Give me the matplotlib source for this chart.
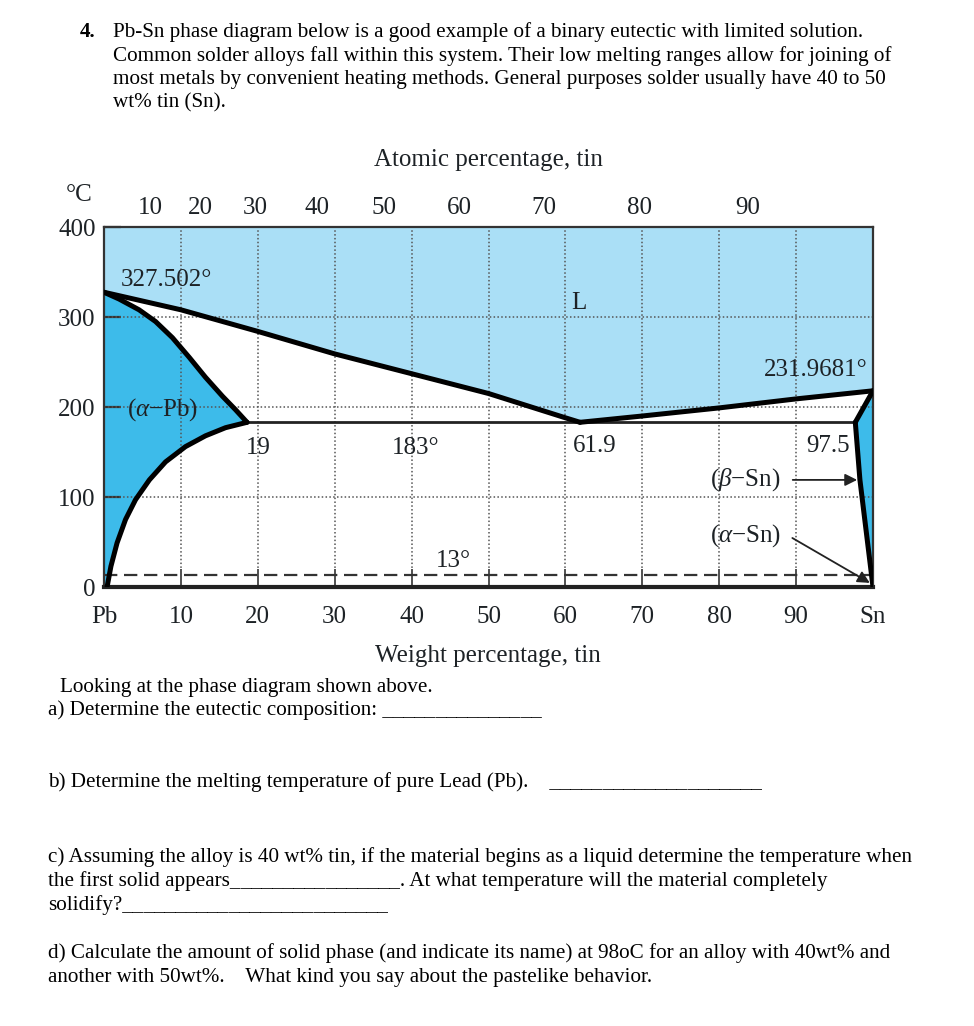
import numpy as np
import matplotlib
matplotlib.use('Agg')
import matplotlib.pyplot as plt

plt.rcParams['font.family'] = ['Liberation Serif', 'DejaVu Serif']
plt.rcParams['mathtext.fontset'] = 'custom'
plt.rcParams['mathtext.rm'] = 'Liberation Serif'
plt.rcParams['mathtext.it'] = 'Liberation Serif:italic'

# liquidus, Pb side and Sn side (wt% Sn, degC)
liq_left_wt = [0, 10, 20, 30, 40, 50, 60, 61.9]
liq_left_T = [327.5, 308, 284, 259, 237, 215, 188, 183]
liq_right_wt = [61.9, 70, 80, 90, 100]
liq_right_T = [183, 190, 199, 209, 218]

# alpha-Pb solidus and solvus
sol_pb_wt = [0, 1.95, 4.56, 6.7, 8.9, 11.1, 13.2, 15.4, 17.1, 18.6]
sol_pb_T = [327.5, 320, 308, 295, 277, 255, 233, 212, 197, 183]
solv_pb_wt = [18.6, 15.8, 13.2, 10.6, 8.0, 5.9, 4.1, 2.8, 1.7, 0.9, 0.4]
solv_pb_T = [183, 177, 168, 156, 139, 119, 97, 75, 49, 23, 0]

# beta-Sn solidus and solvus
sol_sn_wt = [97.7, 100]
sol_sn_T = [183, 218]
solv_sn_wt = [97.7, 98.3, 100]
solv_sn_T = [183, 119, 0]

eutectic_wt = [18.6, 97.7]
eutectic_T = 183
transition_T = 13

wt_ticks = [0, 10, 20, 30, 40, 50, 60, 70, 80, 90, 100]
wt_labels = ['Pb', '10', '20', '30', '40', '50', '60', '70', '80', '90', 'Sn']
at_ticks = [10, 20, 30, 40, 50, 60, 70, 80, 90]
T_ticks = [0, 100, 200, 300, 400]

M_SN = 118.71
M_PB = 207.2

LIGHT = '#aadff6'
DARK = '#3dbbea'
INK = '#1d2226'

W, H = 974, 1026


def wt_to_at(w):
    w = np.asarray(w, dtype=float)
    with np.errstate(divide='ignore', invalid='ignore'):
        a = (w / M_SN) / (w / M_SN + (100 - w) / M_PB) * 100
    return a


def at_to_wt(a):
    a = np.asarray(a, dtype=float)
    with np.errstate(divide='ignore', invalid='ignore'):
        w = (a * M_SN) / (a * M_SN + (100 - a) * M_PB) * 100
    return w


def px(x, y):
    return x / W, 1 - y / H


fig = plt.figure(figsize=(W / 100, H / 100), dpi=100)
ax = fig.add_axes([104 / W, 1 - 587 / H, 769 / W, 360 / H])
ax.set_xlim(0, 100)
ax.set_ylim(0, 400)

# regions
liq_wt = liq_left_wt + liq_right_wt[1:]
liq_T = liq_left_T + liq_right_T[1:]
ax.fill_between(liq_wt, liq_T, 400, color=LIGHT, lw=0, zorder=1)
ax.fill(sol_pb_wt + solv_pb_wt + [0], sol_pb_T + solv_pb_T + [0],
        color=DARK, lw=0, zorder=1)
ax.fill(sol_sn_wt + [100] + solv_sn_wt[::-1], sol_sn_T + [0] + solv_sn_T[::-1],
        color=DARK, lw=0, zorder=1)

# dotted grid
for x in wt_ticks[1:-1]:
    ax.axvline(x, color='#555555', lw=1.1, ls=(0, (1, 1.5)), zorder=2)
for y in T_ticks[1:-1]:
    ax.axhline(y, color='#555555', lw=1.1, ls=(0, (1, 1.5)), zorder=2)
ax.axhline(transition_T, color='#333333', lw=1.6, ls=(0, (6, 3)), zorder=2)

# phase boundaries
kw = dict(color='black', lw=3.6, solid_capstyle='round', solid_joinstyle='round', zorder=4)
ax.plot(liq_left_wt, liq_left_T, **kw)
ax.plot(liq_right_wt, liq_right_T, **kw)
ax.plot(sol_pb_wt, sol_pb_T, **kw)
ax.plot(solv_pb_wt, solv_pb_T, **kw)
ax.plot(sol_sn_wt, sol_sn_T, **kw)
ax.plot(solv_sn_wt, solv_sn_T, **kw)
ax.plot(eutectic_wt, [eutectic_T, eutectic_T], color='#222222', lw=2, zorder=3)

for s in ['top', 'right', 'left']:
    ax.spines[s].set_color('#333333')
    ax.spines[s].set_linewidth(1.6)
ax.spines['bottom'].set_linewidth(3)
ax.spines['bottom'].set_color('#222222')

ax.set_xticks(wt_ticks)
ax.set_xticklabels(wt_labels)
ax.set_yticks(T_ticks)
ax.tick_params(axis='x', direction='in', length=13, width=1.2, color='#333333',
               labelsize=18, pad=14, labelcolor=INK)
ax.tick_params(axis='y', direction='in', length=12, width=1.6, color='#333333',
               labelsize=18, pad=6, labelcolor=INK)

sec = ax.secondary_xaxis('top', functions=(wt_to_at, at_to_wt))
sec.set_xticks(at_ticks)
sec.tick_params(direction='in', length=13, width=1.2, color='#3b5563',
                labelsize=18, pad=6, labelcolor=INK)

# labels inside the diagram
lab = dict(fontsize=18, color=INK, zorder=5)
ax.text(2.2, 334, '327.502°', ha='left', va='baseline', **lab)
ax.text(60.8, 309, 'L', ha='left', va='baseline', **lab)
ax.text(99.3, 235, '231.9681°', ha='right', va='baseline', **lab)
ax.text(3.0, 191, r'($\alpha$−Pb)', ha='left', va='baseline', **lab)
ax.text(20, 148, '19', ha='center', va='baseline', **lab)
ax.text(37.4, 148, '183°', ha='left', va='baseline', **lab)
ax.text(61.0, 150, '61.9', ha='left', va='baseline', **lab)
ax.text(97.0, 150, '97.5', ha='right', va='baseline', **lab)
ax.text(78.8, 113, r'($\beta$−Sn)', ha='left', va='baseline', **lab)
ax.text(78.8, 51, r'($\alpha$−Sn)', ha='left', va='baseline', **lab)
ax.text(43.2, 22, '13°', ha='left', va='baseline', **lab)

arrow = dict(arrowstyle='-|>', color='#222222', lw=1.3, mutation_scale=18)
ax.annotate('', xy=(98.3, 119), xytext=(89.2, 119), arrowprops=arrow, zorder=5)
ax.annotate('', xy=(99.9, 3), xytext=(89.2, 56), arrowprops=arrow, zorder=5)

fig.text(*px(488, 166), 'Atomic percentage, tin', ha='center', va='baseline',
         fontsize=18, color=INK)
fig.text(*px(488, 662), 'Weight percentage, tin', ha='center', va='baseline',
         fontsize=18, color=INK)
fig.text(*px(66, 201), '°C', ha='left', va='baseline', fontsize=18, color=INK)

# worksheet text
body = 15.2
fig.text(*px(80, 37), '4.', fontsize=body, fontweight='bold', va='baseline')
intro = [
    'Pb-Sn phase diagram below is a good example of a binary eutectic with limited solution.',
    'Common solder alloys fall within this system. Their low melting ranges allow for joining of',
    'most metals by convenient heating methods. General purposes solder usually have 40 to 50',
    'wt% tin (Sn).',
]
for i, line in enumerate(intro):
    fig.text(*px(113, 37 + i * 23.5), line, fontsize=body, va='baseline')

questions = [
    (60, 692, 'Looking at the phase diagram shown above.'),
    (48, 715, 'a) Determine the eutectic composition: _______________'),
    (48, 787, 'b) Determine the melting temperature of pure Lead (Pb).    ____________________'),
    (48, 862, 'c) Assuming the alloy is 40 wt% tin, if the material begins as a liquid determine the temperature when'),
    (48, 886, 'the first solid appears________________. At what temperature will the material completely'),
    (48, 910, 'solidify?_________________________'),
    (48, 958, 'd) Calculate the amount of solid phase (and indicate its name) at 98oC for an alloy with 40wt% and'),
    (48, 982, 'another with 50wt%.    What kind you say about the pastelike behavior.'),
]
for x, y, line in questions:
    fig.text(*px(x, y), line, fontsize=body, va='baseline')

fig.savefig('out.png', dpi=100, facecolor='white')
